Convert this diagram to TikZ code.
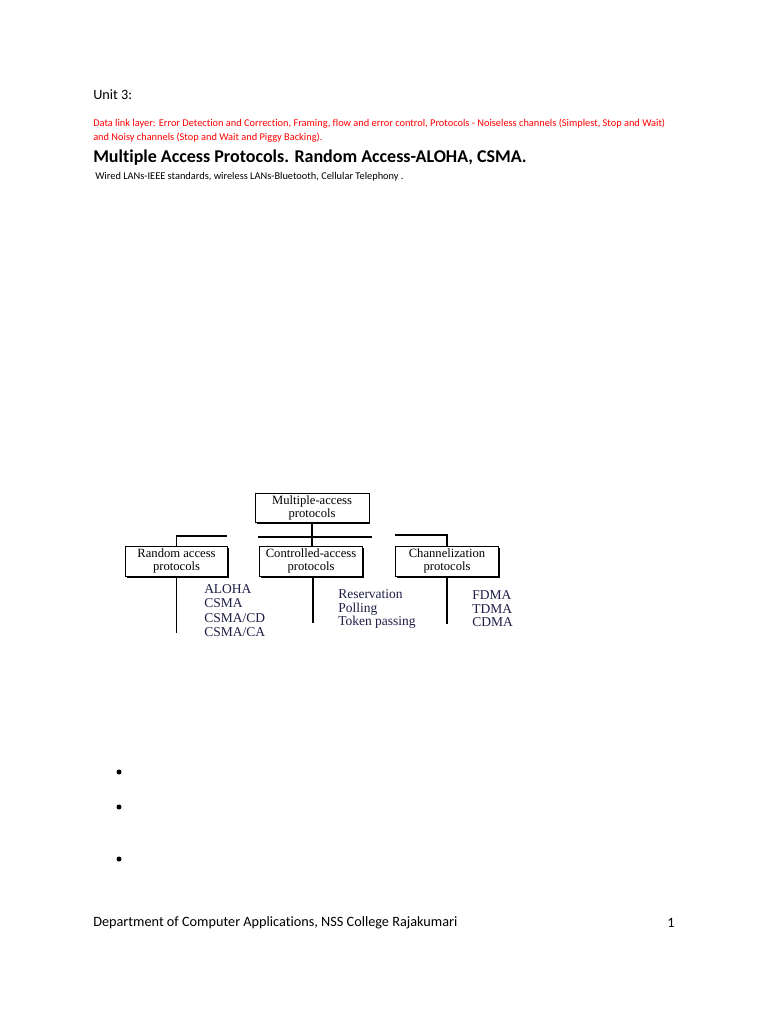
\documentclass[tikz,border=0pt]{standalone}
\usepackage{fontspec}
\setmainfont[Ligatures=NoCommon]{Carlito}
\newfontfamily\timesfont{Liberation Serif}
\usetikzlibrary{shadows}
\definecolor{listink}{RGB}{30,30,70}

\begin{document}
\begin{tikzpicture}[
    x=0.8pt, y=-0.8pt,
    pagetext/.style={anchor=west, inner sep=0pt, font=\fontsize{11.4}{13}\selectfont},
    redtext/.style={pagetext, text=red, align=left, font=\fontsize{8.3}{11.2}\selectfont},
    heading/.style={pagetext, font=\fontsize{14.4}{16}\selectfont\bfseries},
    subtext/.style={pagetext, font=\fontsize{8.3}{9}\selectfont},
    protobox/.style={rectangle, draw, fill=white, line width=0.6pt, minimum width=82pt, minimum height=24pt, align=center, inner sep=1pt, font=\timesfont\fontsize{10.1}{10.5}\selectfont, drop shadow={shadow xshift=1.2pt, shadow yshift=-1.2pt, fill=black, opacity=1}},
    method/.style={anchor=north west, inner sep=0pt, align=left, text=listink, font=\timesfont\fontsize{10.8}{10.7}\selectfont},
    tree/.style={line width=0.9pt},
    dot/.style={circle, fill, inner sep=0pt, minimum size=4pt},
]
\useasboundingbox[fill=white] (0,0) rectangle (768,1024);

\node[pagetext] (unit) at (93,95) {Unit 3:};
\node[redtext] (syllabus) at (93,131) {Data link layer: Error Detection and Correction, Framing, flow and error control, Protocols - Noiseless channels (Simplest, Stop and Wait)\\and Noisy channels (Stop and Wait and Piggy Backing).};
\node[heading] (title) at (93,158) {Multiple Access Protocols. Random Access-ALOHA, CSMA.};
\node[subtext] (topics) at (95,177) {Wired LANs-IEEE standards, wireless LANs-Bluetooth, Cellular Telephony .};

\node[protobox, minimum width=91pt, minimum height=23pt] (multi) at (312,508) {Multiple-access\\protocols};
\node[protobox] (rand) at (176.5,561) {Random access\\protocols};
\node[protobox] (ctrl) at (311,561) {Controlled-access\\protocols};
\node[protobox] (chan) at (447,561) {Channelization\\protocols};

\coordinate (bar_l) at (258,537);
\coordinate (bar_r) at (372,537);
\coordinate (rand_bar) at (227,536);
\coordinate (chan_bar) at (395,535);
\coordinate (rand_end) at (176.5,633);
\coordinate (ctrl_end) at (313,623);
\coordinate (chan_end) at (447,624);

\draw[tree] (bar_l) -- (bar_r);
\draw[tree] (multi) -- (multi |- ctrl.north);
\draw[tree] (rand_bar) -| (rand);
\draw[tree] (chan_bar) -| (chan);
\draw[tree] (rand) -- (rand_end);
\draw[tree] (ctrl.south -| ctrl_end) -- (ctrl_end);
\draw[tree] (chan) -- (chan_end);

\node[method, font=\timesfont\fontsize{10.8}{11.4}\selectfont] (rand_list) at (204,584.5) {ALOHA\\CSMA\\CSMA/CD\\CSMA/CA};
\node[method] (ctrl_list) at (338,589.5) {Reservation\\Polling\\Token passing};
\node[method] (chan_list) at (472,590.5) {FDMA\\TDMA\\CDMA};

\node[dot] (bullet1) at (119,772) {};
\node[dot] (bullet2) at (119,807) {};
\node[dot] (bullet3) at (119,859) {};

\node[pagetext] (footer) at (93,923) {Department of Computer Applications, NSS College Rajakumari};
\node[pagetext, anchor=center] (page) at (671,923) {1};
\end{tikzpicture}
\end{document}
